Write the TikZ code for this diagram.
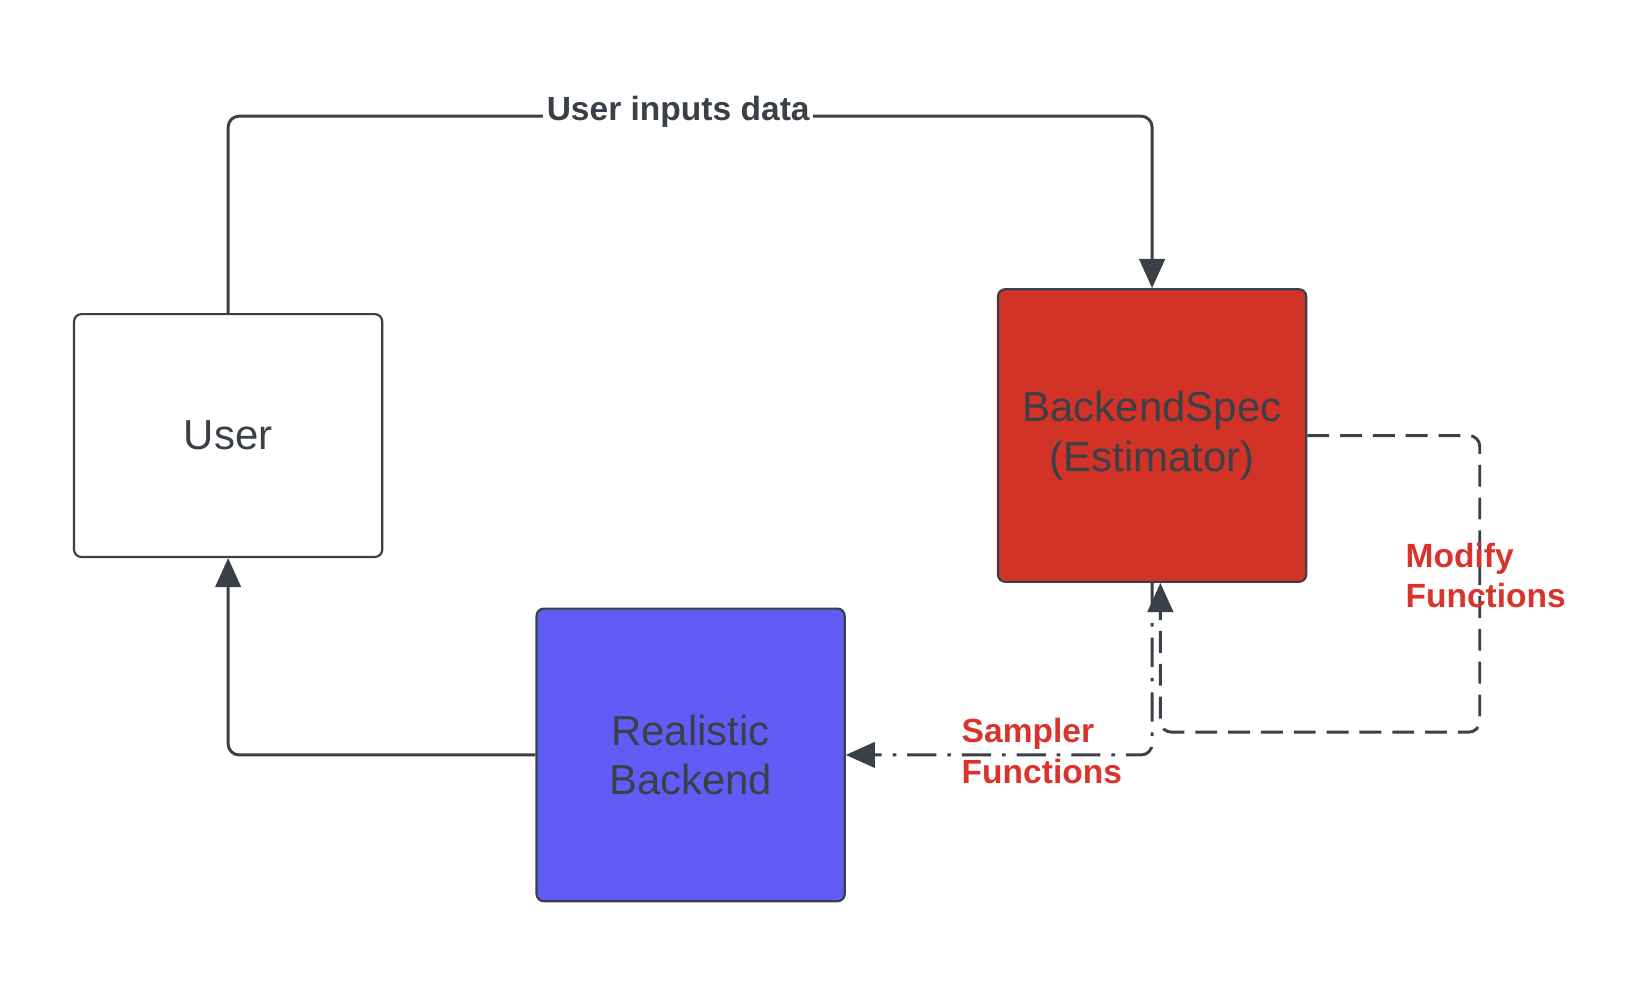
\documentclass[tikz,border=0pt]{standalone}
\usepackage{fontspec}
\setmainfont{Liberation Sans}
\usetikzlibrary{arrows.meta}
\definecolor{edgegray}{HTML}{3A4048}
\definecolor{specred}{HTML}{D33227}
\definecolor{backblue}{HTML}{605DF7}
\definecolor{labelred}{HTML}{D9342B}
\definecolor{gridgray}{HTML}{E6E6E6}
\tikzset{
  box/.style={draw=edgegray, semithick, rounded corners=2pt, minimum width=2.97cm,
    text=edgegray, align=center, font=\fontsize{11.5}{13.5}\selectfont},
  link/.style={draw=edgegray, thick, rounded corners=3pt, -{Triangle[length=8pt,width=7pt]}},
  redlabel/.style={text=labelred, font=\bfseries\fontsize{9.2}{11.2}\selectfont, align=left, anchor=west}
}
\begin{document}
\begin{tikzpicture}[x=0.01cm, y=-0.01cm]
  \useasboundingbox (0,0) rectangle (1568,966);
  \draw[gridgray, very thin, step=0.37cm, shift={(35,-18)}] (-35,18) grid (1533,-948);

  \node[box, minimum height=2.34cm] (user) at (220,420) {User};
  \node[box, fill=specred, minimum height=2.82cm] (spec) at (1111,420) {BackendSpec\\(Estimator)};
  \node[box, fill=backblue, minimum height=2.82cm] (real) at (666,728) {Realistic\\Backend};

  \coordinate (topleft) at (220,112);
  \coordinate (topright) at (1111,112);
  \draw[link] (user.north) -- (topleft) -- (topright) -- (spec.north);
  \node[fill=white, inner sep=1pt, text=edgegray, font=\bfseries\fontsize{9.2}{11}\selectfont] (inputs) at (654,108) {User inputs data};

  \coordinate (lowleft) at (220,728);
  \draw[link] (real.west) -- (lowleft) -- (user.south);

  \coordinate (sampcorner) at (1111,728);
  \draw[link, dash pattern=on 8pt off 3pt on 1pt off 3pt] (spec.south) -- (sampcorner) -- (real.east);

  \coordinate (modA) at (1427,420);
  \coordinate (modB) at (1427,706);
  \coordinate (modC) at (1119,706);
  \draw[link, dash pattern=on 6pt off 3pt] (spec.east) -- (modA) -- (modB) -- (modC) -- (spec.south -| modC);

  \node[redlabel] (sampler) at (915,724) {Sampler\\Functions};
  \node[redlabel] (modify) at (1343,555) {Modify\\Functions};
\end{tikzpicture}
\end{document}
